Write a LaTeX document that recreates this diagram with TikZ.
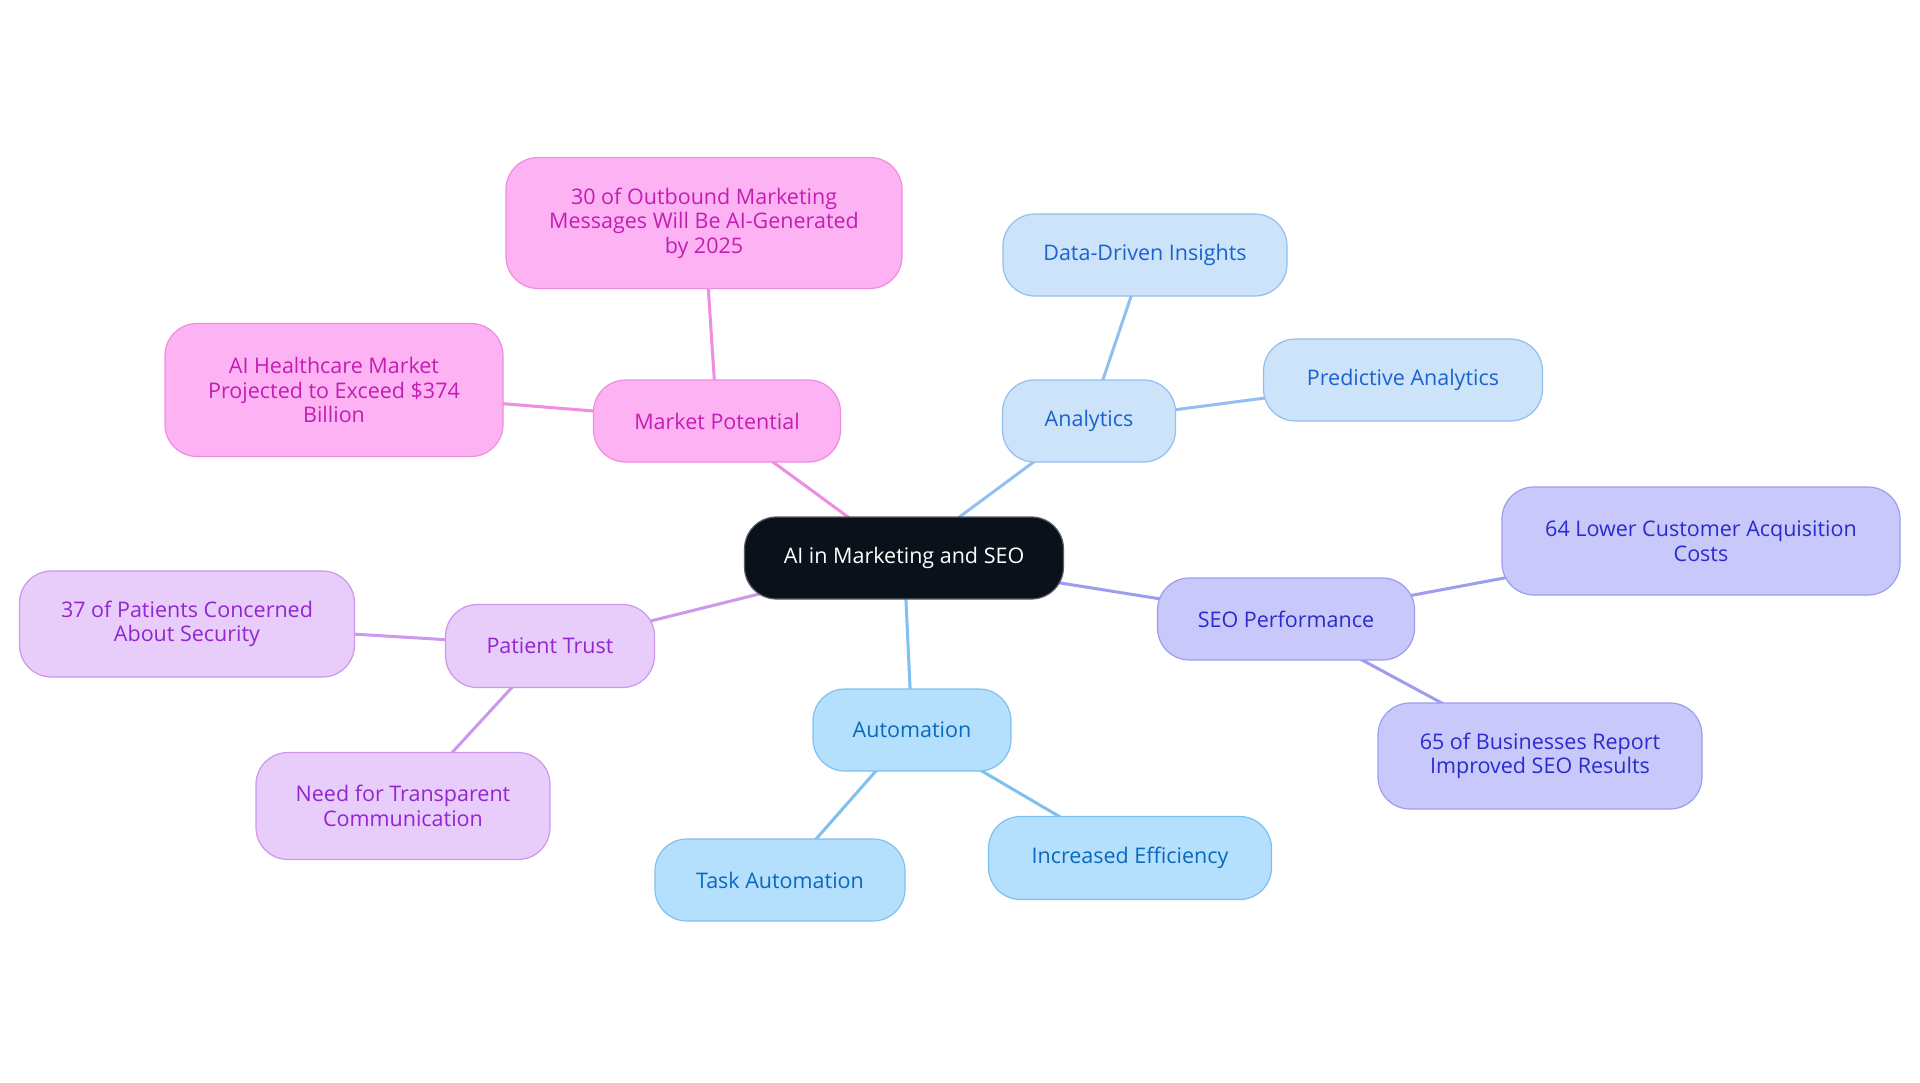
\documentclass[tikz,border=0pt]{standalone}
\usepackage{fontspec}
\setmainfont{Open Sans}
\usetikzlibrary{backgrounds}
\begin{document}
\begin{tikzpicture}[x=1pt,y=-1pt,
  box/.style={rounded corners=32pt, line width=1.2pt, align=center, inner sep=0pt,
    font=\fontsize{21.5}{24.5}\selectfont},
  cen/.style={box, fill=cenfill, draw=cenline, text=white},
  pk/.style={box, fill=pkfill, draw=pkline, text=pktext},
  an/.style={box, fill=anfill, draw=anline, text=antext},
  au/.style={box, fill=aufill, draw=auline, text=autext},
  se/.style={box, fill=sefill, draw=seline, text=setext},
  pt/.style={box, fill=ptfill, draw=ptline, text=pttext},
  edge/.style={line width=3pt}
]
\definecolor{cenfill}{HTML}{0B111B}\definecolor{cenline}{HTML}{5A5F66}
\definecolor{pkfill}{HTML}{FDB3F3}\definecolor{pkline}{HTML}{F08CE2}\definecolor{pktext}{HTML}{C41DB3}
\definecolor{anfill}{HTML}{CCE3FA}\definecolor{anline}{HTML}{92BFF0}\definecolor{antext}{HTML}{1A62CC}
\definecolor{aufill}{HTML}{B5E0FD}\definecolor{auline}{HTML}{7EC0EE}\definecolor{autext}{HTML}{0A68BD}
\definecolor{sefill}{HTML}{C8C8FA}\definecolor{seline}{HTML}{9D9DEF}\definecolor{setext}{HTML}{2B2BCC}
\definecolor{ptfill}{HTML}{E8CCFA}\definecolor{ptline}{HTML}{CC98EE}\definecolor{pttext}{HTML}{9226CF}
\useasboundingbox (0,0) rectangle (1920,1083);

\node[cen, minimum width=319pt, minimum height=82pt] (c) at (904,558) {AI in Marketing and SEO};

\node[pk, minimum width=247pt, minimum height=82pt] (mp) at (717,421) {Market Potential};
\node[pk, minimum width=396pt, minimum height=131pt] (mp1) at (704,223) {30 of Outbound Marketing\\Messages Will Be AI-Generated\\by 2025};
\node[pk, minimum width=338pt, minimum height=133pt] (mp2) at (334,390) {AI Healthcare Market\\Projected to Exceed \$374\\Billion};

\node[an, minimum width=173pt, minimum height=82pt] (an) at (1089,421) {Analytics};
\node[an, minimum width=284pt, minimum height=82pt] (an1) at (1145,255) {Data-Driven Insights};
\node[an, minimum width=279pt, minimum height=82pt] (an2) at (1403,380) {Predictive Analytics};

\node[se, minimum width=257pt, minimum height=82pt] (se) at (1286,619) {SEO Performance};
\node[se, minimum width=398pt, minimum height=108pt] (se1) at (1701,541) {64 Lower Customer Acquisition\\Costs};
\node[se, minimum width=324pt, minimum height=106pt] (se2) at (1540,756) {65 of Businesses Report\\Improved SEO Results};

\node[au, minimum width=198pt, minimum height=82pt] (au) at (912,730) {Automation};
\node[au, minimum width=250pt, minimum height=82pt] (au1) at (780,880) {Task Automation};
\node[au, minimum width=283pt, minimum height=83pt] (au2) at (1130,858) {Increased Efficiency};

\node[pt, minimum width=209pt, minimum height=83pt] (pt) at (550,646) {Patient Trust};
\node[pt, minimum width=335pt, minimum height=106pt] (pt1) at (187,624) {37 of Patients Concerned\\About Security};
\node[pt, minimum width=294pt, minimum height=107pt] (pt2) at (403,806) {Need for Transparent\\Communication};

\begin{scope}[on background layer]
\fill[white] (0,0) rectangle (1920,1083);
\draw[edge, pkline] (c.center) -- (mp.center);
\draw[edge, pkline] (mp.center) -- (mp1.center);
\draw[edge, pkline] (mp.center) -- (mp2.center);
\draw[edge, anline] (c.center) -- (an.center);
\draw[edge, anline] (an.center) -- (an1.center);
\draw[edge, anline] (an.center) -- (an2.center);
\draw[edge, seline] (c.center) -- (se.center);
\draw[edge, seline] (se.center) -- (se1.center);
\draw[edge, seline] (se.center) -- (se2.center);
\draw[edge, auline] (c.center) -- (au.center);
\draw[edge, auline] (au.center) -- (au1.center);
\draw[edge, auline] (au.center) -- (au2.center);
\draw[edge, ptline] (c.center) -- (pt.center);
\draw[edge, ptline] (pt.center) -- (pt1.center);
\draw[edge, ptline] (pt.center) -- (pt2.center);
\end{scope}
\end{tikzpicture}
\end{document}
